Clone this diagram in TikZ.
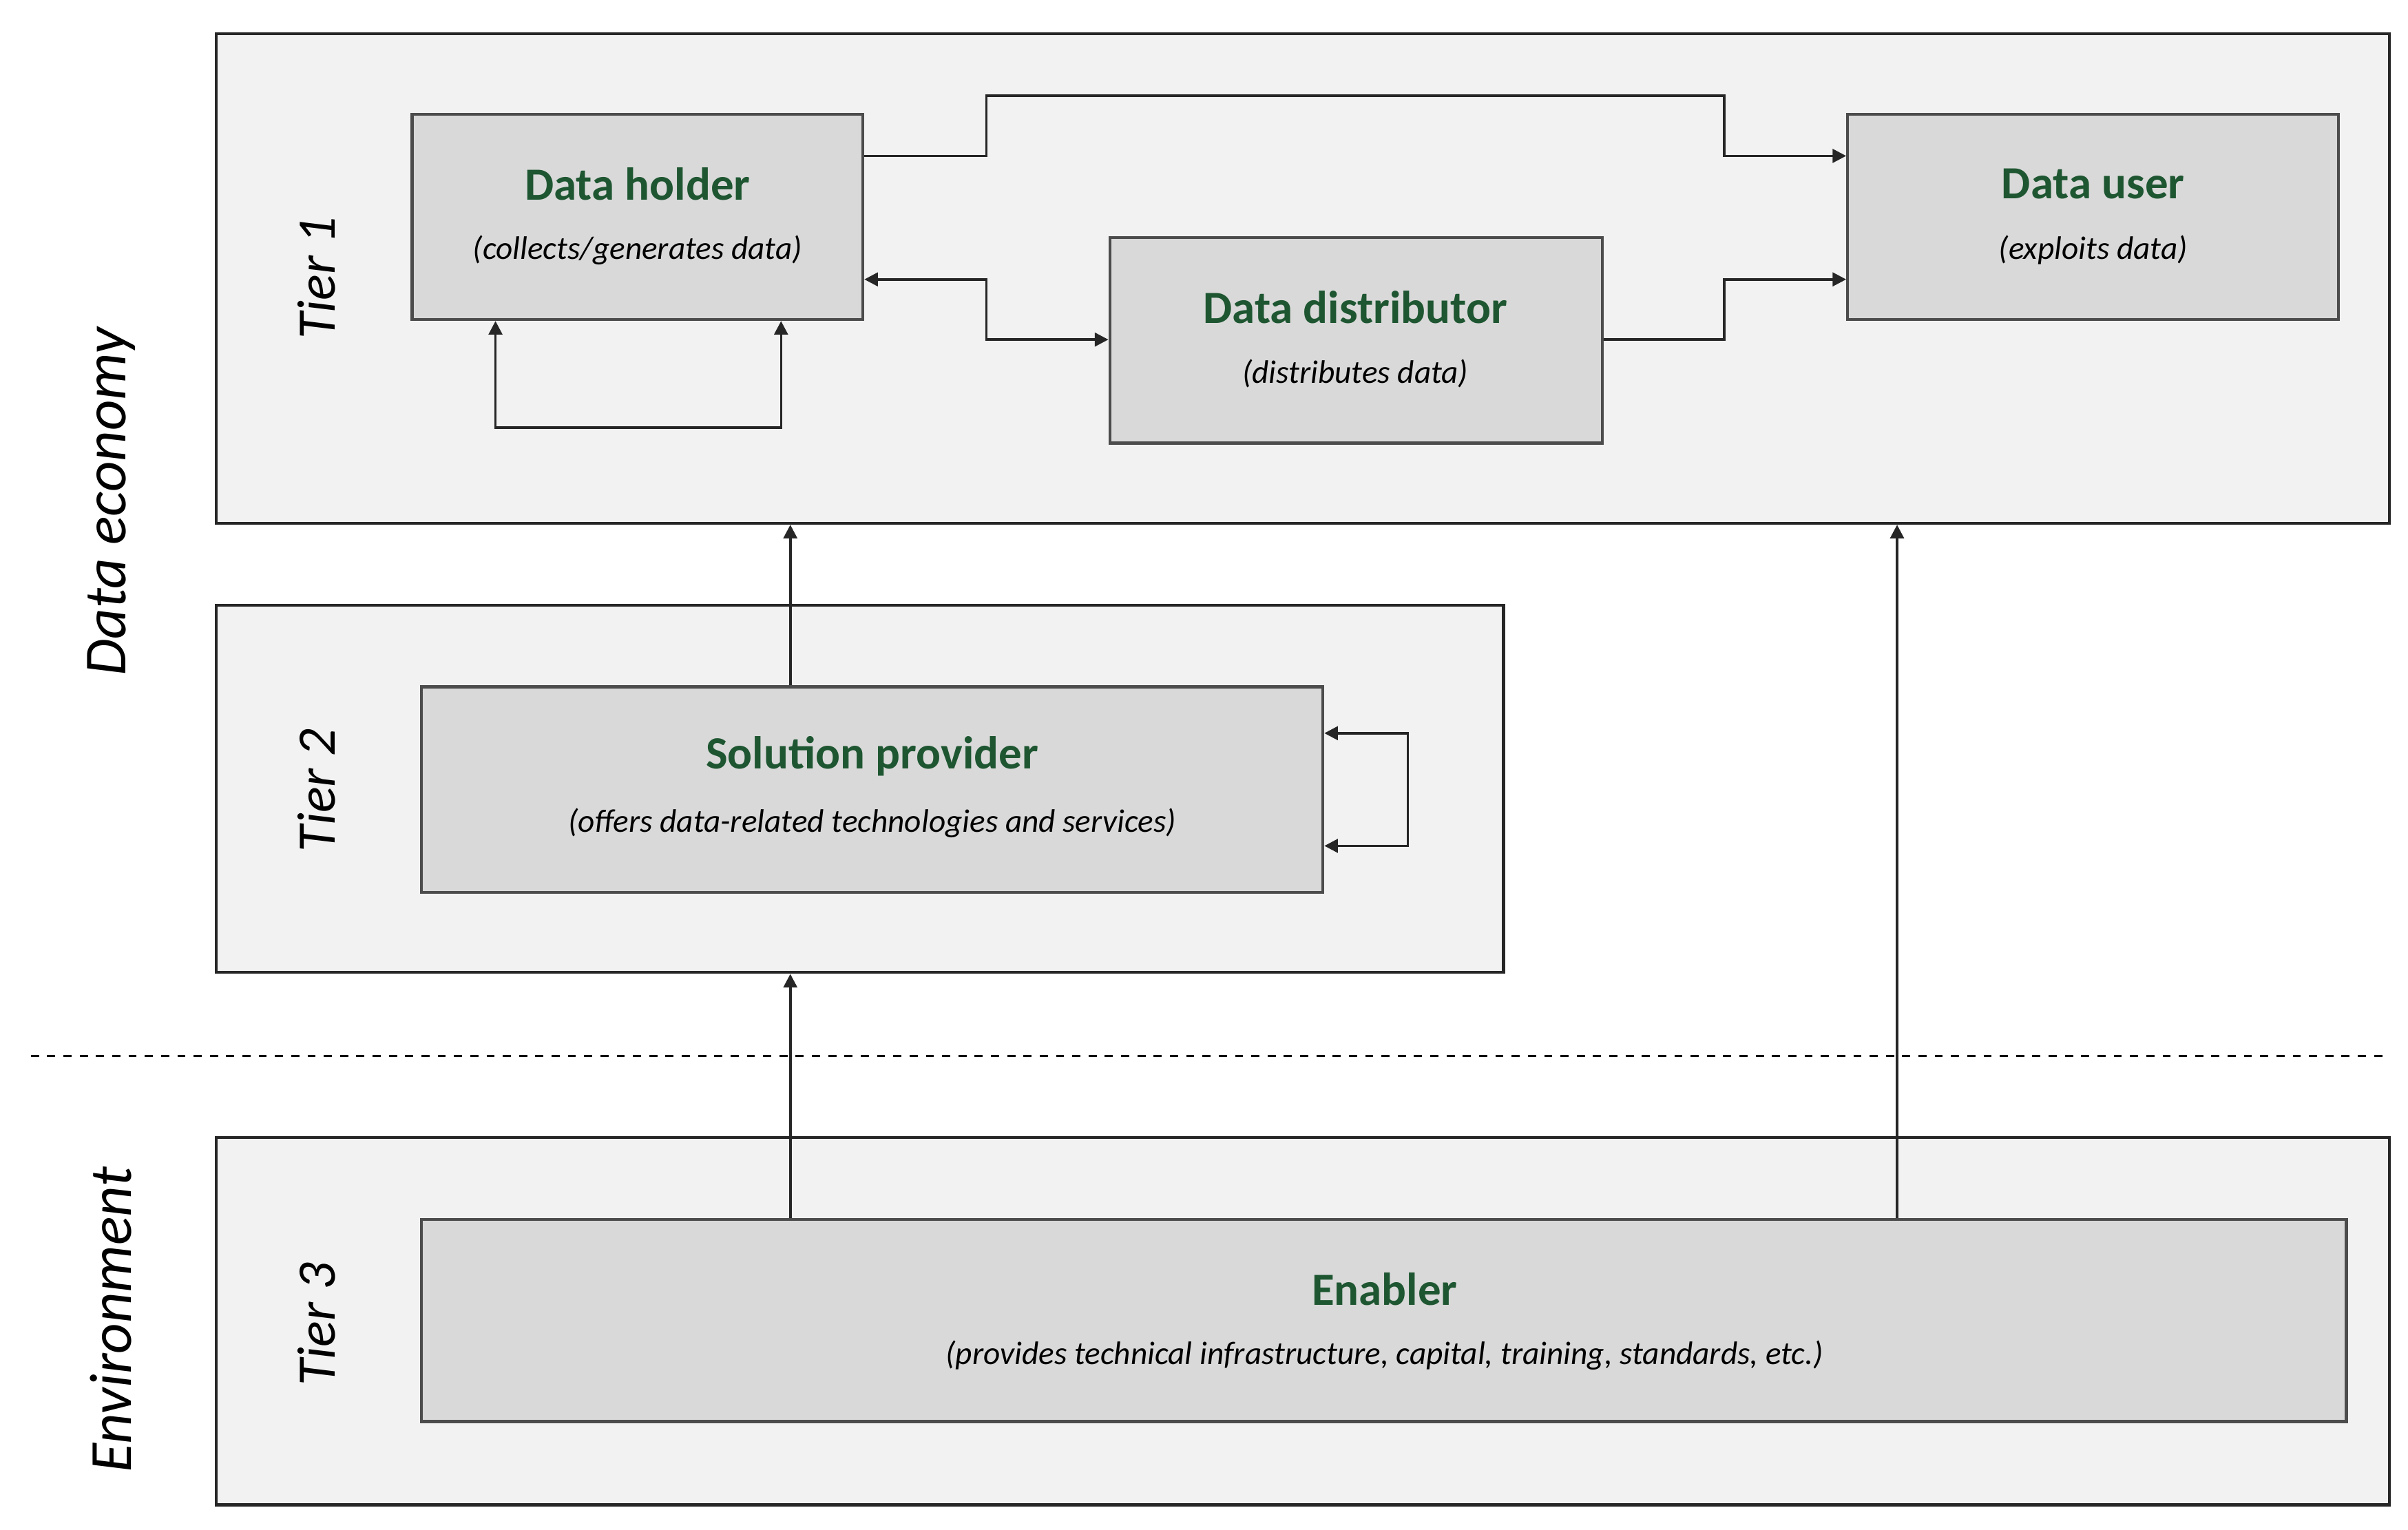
\documentclass[tikz,border=0pt]{standalone}
\usepackage{fontspec}
\setmainfont{Carlito}
\usetikzlibrary{fit,arrows.meta}
\definecolor{tier}{HTML}{F2F2F2}
\definecolor{actor}{HTML}{D9D9D9}
\definecolor{ttl}{HTML}{1E5631}
\begin{document}
\begin{tikzpicture}[x=0.02cm,y=-0.02cm,
  tierbox/.style={draw=black!85,line width=1.1pt,fill=tier,inner sep=0pt},
  actbox/.style={draw=black!70,line width=1.1pt,fill=actor,inner sep=0pt},
  title/.style={font=\fontsize{17}{20}\selectfont\bfseries,text=ttl},
  sub/.style={font=\fontsize{12}{14}\selectfont\itshape},
  tierlab/.style={font=\fontsize{20}{24}\selectfont\itshape,rotate=90},
  side/.style={font=\fontsize{22}{26}\selectfont\itshape,rotate=90},
  conn/.style={line width=0.9pt,black!85},
  tip/.style={-{Triangle[length=5pt,width=5pt]}},
  tips/.style={{Triangle[length=5pt,width=5pt]}-{Triangle[length=5pt,width=5pt]}}]
\useasboundingbox (0,0) rectangle (1560,991);
\node[tierbox,fit={(140,22)(1548,339)}] (t1) {};
\node[tierbox,fit={(140,392)(974,630)}] (t2) {};
\node[tierbox,fit={(140,737)(1548,975)}] (t3) {};
\draw[dashed,line width=0.9pt] (20,684) -- (1548,684);
\node[tierlab] (l1) at (205,180) {Tier 1};
\node[tierlab] (l2) at (205,512) {Tier 2};
\node[tierlab] (l3) at (205,858) {Tier 3};
\node[side] (de) at (72,325) {Data economy};
\node[side] (en) at (72,855) {Environment};
\node[actbox,fit={(267,74)(559,207)}] (dh) {};
\node[actbox,fit={(719,154)(1038,287)}] (dd) {};
\node[actbox,fit={(1197,74)(1515,207)}] (du) {};
\node[actbox,fit={(273,445)(857,578)}] (sp) {};
\node[actbox,fit={(273,790)(1520,921)}] (eb) {};
\node[title] (dht) at (413,119) {Data holder};
\node[sub] (dhs) at (413,162) {(collects/generates data)};
\node[title] (ddt) at (878,199) {Data distributor};
\node[sub] (dds) at (878,242) {(distributes data)};
\node[title] (dut) at (1356,119) {Data user};
\node[sub] (dus) at (1356,162) {(exploits data)};
\node[title] (spt) at (565,490) {Solution provider};
\node[sub] (sps) at (565,533) {(offers data-related technologies and services)};
\node[title] (ebt) at (897,835) {Enabler};
\node[sub] (ebs) at (897,878) {(provides technical infrastructure, capital, training, standards, etc.)};
% tier 1 connectors
\draw[conn,tip] (dh.east |- {(0,101)}) -- (639,101) -- (639,62) -- (1117,62) -- (1117,101) -- (du.west |- {(0,101)});
\draw[conn,tip] (dd.east |- {(0,220)}) -- (1117,220) -- (1117,181) -- (du.west |- {(0,181)});
\draw[conn,tips] (dh.east |- {(0,181)}) -- (639,181) -- (639,220) -- (dd.west |- {(0,220)});
\draw[conn,tips] (dh.south -| {(321,0)}) -- (321,277) -- (506,277) -- (dh.south -| {(506,0)});
\draw[conn,tips] (sp.east |- {(0,475)}) -- (912,475) -- (912,548) -- (sp.east |- {(0,548)});
% vertical
\draw[conn,tip] (sp.north -| {(512,0)}) -- (t1.south -| {(512,0)});
\draw[conn,tip] (eb.north -| {(512,0)}) -- (t2.south -| {(512,0)});
\draw[conn,tip] (eb.north -| {(1229,0)}) -- (t1.south -| {(1229,0)});
\end{tikzpicture}
\end{document}
